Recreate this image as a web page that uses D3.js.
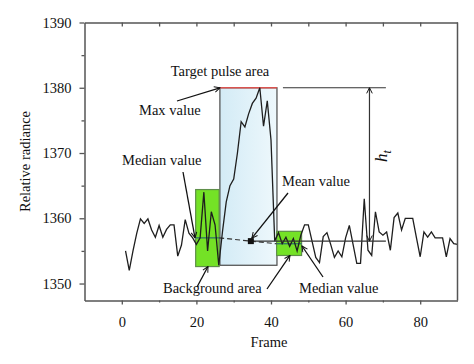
<!DOCTYPE html>
<html>
<head>
<meta charset="utf-8">
<script src="https://cdnjs.cloudflare.com/ajax/libs/d3/7.8.5/d3.min.js"></script>
<style>
  body { margin: 0; background: #fff; }
  svg text { font-family: "Liberation Serif", "DejaVu Serif", serif; fill: #111; }
</style>
</head>
<body>
<svg id="chart" width="474" height="364"></svg>
<script>
// ***** data *****
const firstFrame = 1
const radiance = [
  1355, 1352, 1355, 1357.7, 1359.9, 1359.2, 1359.9, 1358.2, 1357.1, 1358.9,
  1357.1, 1358.3, 1359, 1359, 1354.2, 1355.9, 1359.8, 1357.7, 1357, 1356,
  1357, 1364, 1355, 1361, 1359, 1352.8, 1358, 1362.5, 1365, 1366,
  1370, 1374.8, 1374, 1376, 1377.6, 1378.4, 1380, 1374.1, 1378, 1372,
  1356.5, 1357.8, 1356.1, 1357.1, 1355.7, 1356.9, 1355, 1357.4, 1359, 1359,
  1356.5, 1354, 1353.2, 1357.2, 1357.8, 1356, 1354, 1355, 1354.1, 1357,
  1358.9, 1356, 1353.1, 1353.1, 1363, 1355.1, 1354.3, 1361, 1357.9, 1357.4,
  1357.9, 1355.1, 1360.1, 1360.8, 1358.2, 1360, 1360, 1360, 1357, 1354.1,
  1357.9, 1357.1, 1357.9, 1357, 1357, 1357, 1354.1, 1356.9, 1356.1, 1356
]

// areas: [frame from, frame to, value low, value high]
const targetArea = [26.3, 41.6, 1352.8, 1380]
const backgroundLeft = [19.8, 26.1, 1352.6, 1364.4]
const backgroundRight = [41.5, 48.2, 1354.3, 1358]

const maxValue = 1380
const meanPoint = [34.6, 1356.5]
const medianLeft = 1357
const medianRight = 1356.1
const htFrame = 66.4
const refLineEnd = 70.8
const refLineStart = 43.2

const xMajor = [0, 20, 40, 60, 80]
const xMinor = [10, 30, 50, 70]
const yMajor = [1350, 1360, 1370, 1380, 1390]
const yMinor = [1355, 1365, 1375, 1385]

// ***** scales *****
const svg = d3.select("#chart")
const x = d3.scaleLinear().domain([-10, 90]).range([84.5, 457.5])
const y = d3.scaleLinear().domain([1347.4, 1390]).range([300.5, 22.5])

const defs = svg.append("defs")
const grad = defs.append("linearGradient").attr("id", "blueFill")
grad.append("stop").attr("offset", "0%").attr("stop-color", "#d3ebf6")
grad.append("stop").attr("offset", "100%").attr("stop-color", "#eef8fc")

defs.append("marker")
  .attr("id", "arrow")
  .attr("viewBox", "0 0 10 10")
  .attr("refX", 9).attr("refY", 5)
  .attr("markerWidth", 7).attr("markerHeight", 7)
  .attr("markerUnits", "userSpaceOnUse")
  .attr("orient", "auto-start-reverse")
  .append("path")
  .attr("d", "M1,1 L9,5 L1,9")
  .attr("fill", "none")
  .attr("stroke", "#111")
  .attr("stroke-width", 1.4)

// ***** areas *****
function areaRect(a, fill, stroke) {
  svg.append("rect")
    .attr("x", x(a[0]))
    .attr("y", y(a[3]))
    .attr("width", x(a[1]) - x(a[0]))
    .attr("height", y(a[2]) - y(a[3]))
    .attr("fill", fill)
    .attr("stroke", stroke)
    .attr("stroke-width", 1.2)
}
areaRect(targetArea, "url(#blueFill)", "#4a4a4a")
areaRect(backgroundLeft, "#74e226", "#5f8f4a")
areaRect(backgroundRight, "#74e226", "#5f8f4a")

svg.append("line")
  .attr("x1", x(targetArea[0])).attr("x2", x(targetArea[1]))
  .attr("y1", y(maxValue)).attr("y2", y(maxValue))
  .attr("stroke", "#d9534f").attr("stroke-width", 1.5)

// median lines inside background areas
svg.append("line")
  .attr("x1", x(backgroundLeft[0])).attr("x2", x(backgroundLeft[1]))
  .attr("y1", y(medianLeft)).attr("y2", y(medianLeft))
  .attr("stroke", "#2f7368").attr("stroke-width", 1.3)
svg.append("line")
  .attr("x1", x(backgroundRight[0])).attr("x2", x(backgroundRight[1]))
  .attr("y1", y(medianRight)).attr("y2", y(medianRight))
  .attr("stroke", "#2f7368").attr("stroke-width", 1.3)

// dashed lines to mean
svg.append("line")
  .attr("x1", x(backgroundLeft[1])).attr("y1", y(medianLeft))
  .attr("x2", x(meanPoint[0])).attr("y2", y(meanPoint[1]))
  .attr("stroke", "#333").attr("stroke-width", 1.2).attr("stroke-dasharray", "5,3")
svg.append("line")
  .attr("x1", x(meanPoint[0])).attr("y1", y(meanPoint[1]))
  .attr("x2", x(backgroundRight[0])).attr("y2", y(medianRight))
  .attr("stroke", "#333").attr("stroke-width", 1.2).attr("stroke-dasharray", "5,3")

// ***** the signal *****
const line = d3.line()
  .x(function(d, i) { return x(i + firstFrame) })
  .y(function(d) { return y(d) })

svg.append("path")
  .datum(radiance)
  .attr("d", line)
  .attr("fill", "none")
  .attr("stroke", "#1e1e1e")
  .attr("stroke-width", 1.3)
  .attr("stroke-linejoin", "miter")

// mean reference lines and h_t arrow
svg.append("line")
  .attr("x1", x(meanPoint[0])).attr("x2", x(refLineEnd))
  .attr("y1", y(meanPoint[1])).attr("y2", y(meanPoint[1]))
  .attr("stroke", "#333").attr("stroke-width", 1.2)
svg.append("line")
  .attr("x1", x(refLineStart)).attr("x2", x(refLineEnd))
  .attr("y1", y(maxValue)).attr("y2", y(maxValue))
  .attr("stroke", "#333").attr("stroke-width", 1.2)
svg.append("line")
  .attr("x1", x(htFrame)).attr("x2", x(htFrame))
  .attr("y1", y(meanPoint[1])).attr("y2", y(maxValue))
  .attr("stroke", "#333").attr("stroke-width", 1.2)
  .attr("marker-start", "url(#arrow)")
  .attr("marker-end", "url(#arrow)")

svg.append("rect")
  .attr("x", x(meanPoint[0]) - 3).attr("y", y(meanPoint[1]) - 3)
  .attr("width", 6).attr("height", 6)
  .attr("fill", "#111")

// ***** axes *****
function styleAxis(g) {
  g.attr("font-family", null)
  g.selectAll("path.domain").attr("stroke", "#555").attr("stroke-width", 1.5)
  g.selectAll(".tick line").attr("stroke", "#555").attr("stroke-width", 1.3)
  g.selectAll(".tick text")
    .attr("font-size", 14.5)
    .attr("fill", "#111")
}

svg.append("g")
  .attr("transform", "translate(0," + y.range()[0] + ")")
  .call(d3.axisBottom(x).tickValues(xMajor).tickSize(4).tickSizeOuter(0).tickPadding(12).tickFormat(d3.format("d")))
  .call(styleAxis)
svg.append("g")
  .attr("transform", "translate(0," + y.range()[0] + ")")
  .call(d3.axisBottom(x).tickValues(xMinor).tickSize(2).tickFormat(""))
  .call(function(g) { g.select(".domain").remove() })
  .call(styleAxis)

svg.append("g")
  .attr("transform", "translate(0," + y.range()[1] + ")")
  .call(d3.axisTop(x).tickValues(xMajor.concat(xMinor)).tickSize(-4).tickSizeOuter(0).tickFormat(""))
  .call(styleAxis)

svg.append("g")
  .attr("transform", "translate(" + x.range()[0] + ",0)")
  .call(d3.axisLeft(y).tickValues(yMajor).tickSize(5).tickSizeOuter(0).tickPadding(8).tickFormat(d3.format("d")))
  .call(styleAxis)
svg.append("g")
  .attr("transform", "translate(" + x.range()[0] + ",0)")
  .call(d3.axisLeft(y).tickValues(yMinor).tickSize(3).tickFormat(""))
  .call(function(g) { g.select(".domain").remove() })
  .call(styleAxis)

svg.append("line")
  .attr("x1", x.range()[1]).attr("x2", x.range()[1])
  .attr("y1", y.range()[0]).attr("y2", y.range()[1])
  .attr("stroke", "#555").attr("stroke-width", 1.5)

svg.append("text")
  .attr("transform", "translate(30," + ((y.range()[0] + y.range()[1]) / 2) + ") rotate(-90)")
  .attr("text-anchor", "middle")
  .attr("font-size", 14.5)
  .text("Relative radiance")

svg.append("text")
  .attr("x", 269).attr("y", 347)
  .attr("text-anchor", "middle")
  .attr("font-size", 14.5)
  .text("Frame")

// ***** annotations *****
const notes = svg.append("g").attr("font-size", 14.5)
notes.append("text").attr("x", 220).attr("y", 76).attr("text-anchor", "middle").text("Target pulse area")
notes.append("text").attr("x", 139).attr("y", 115).text("Max value")
notes.append("text").attr("x", 122).attr("y", 165).text("Median value")
notes.append("text").attr("x", 282).attr("y", 186).text("Mean value")
notes.append("text").attr("x", 163).attr("y", 293).text("Background area")
notes.append("text").attr("x", 299).attr("y", 293).text("Median value")

const ht = notes.append("text")
  .attr("transform", "translate(387,156) rotate(-90)")
  .attr("text-anchor", "middle")
  .attr("font-size", 17)
ht.append("tspan").attr("font-style", "italic").text("h")
ht.append("tspan").attr("font-style", "italic").attr("font-size", 12).attr("dy", 4).text("t")

function arrow(x1, y1, x2, y2) {
  svg.append("line")
    .attr("x1", x1).attr("y1", y1).attr("x2", x2).attr("y2", y2)
    .attr("stroke", "#111").attr("stroke-width", 1.3)
    .attr("marker-end", "url(#arrow)")
}
arrow(177, 101, x(targetArea[0]), y(maxValue))
arrow(183, 172, 195, y(medianLeft))
arrow(288, 193, x(meanPoint[0]) + 1, y(meanPoint[1]) - 3)
arrow(197, 287, 208, y(backgroundLeft[2]))
arrow(267, 289, 290, y(backgroundRight[2]))
arrow(323, 277, 302, 246)
</script>
</body>
</html>
